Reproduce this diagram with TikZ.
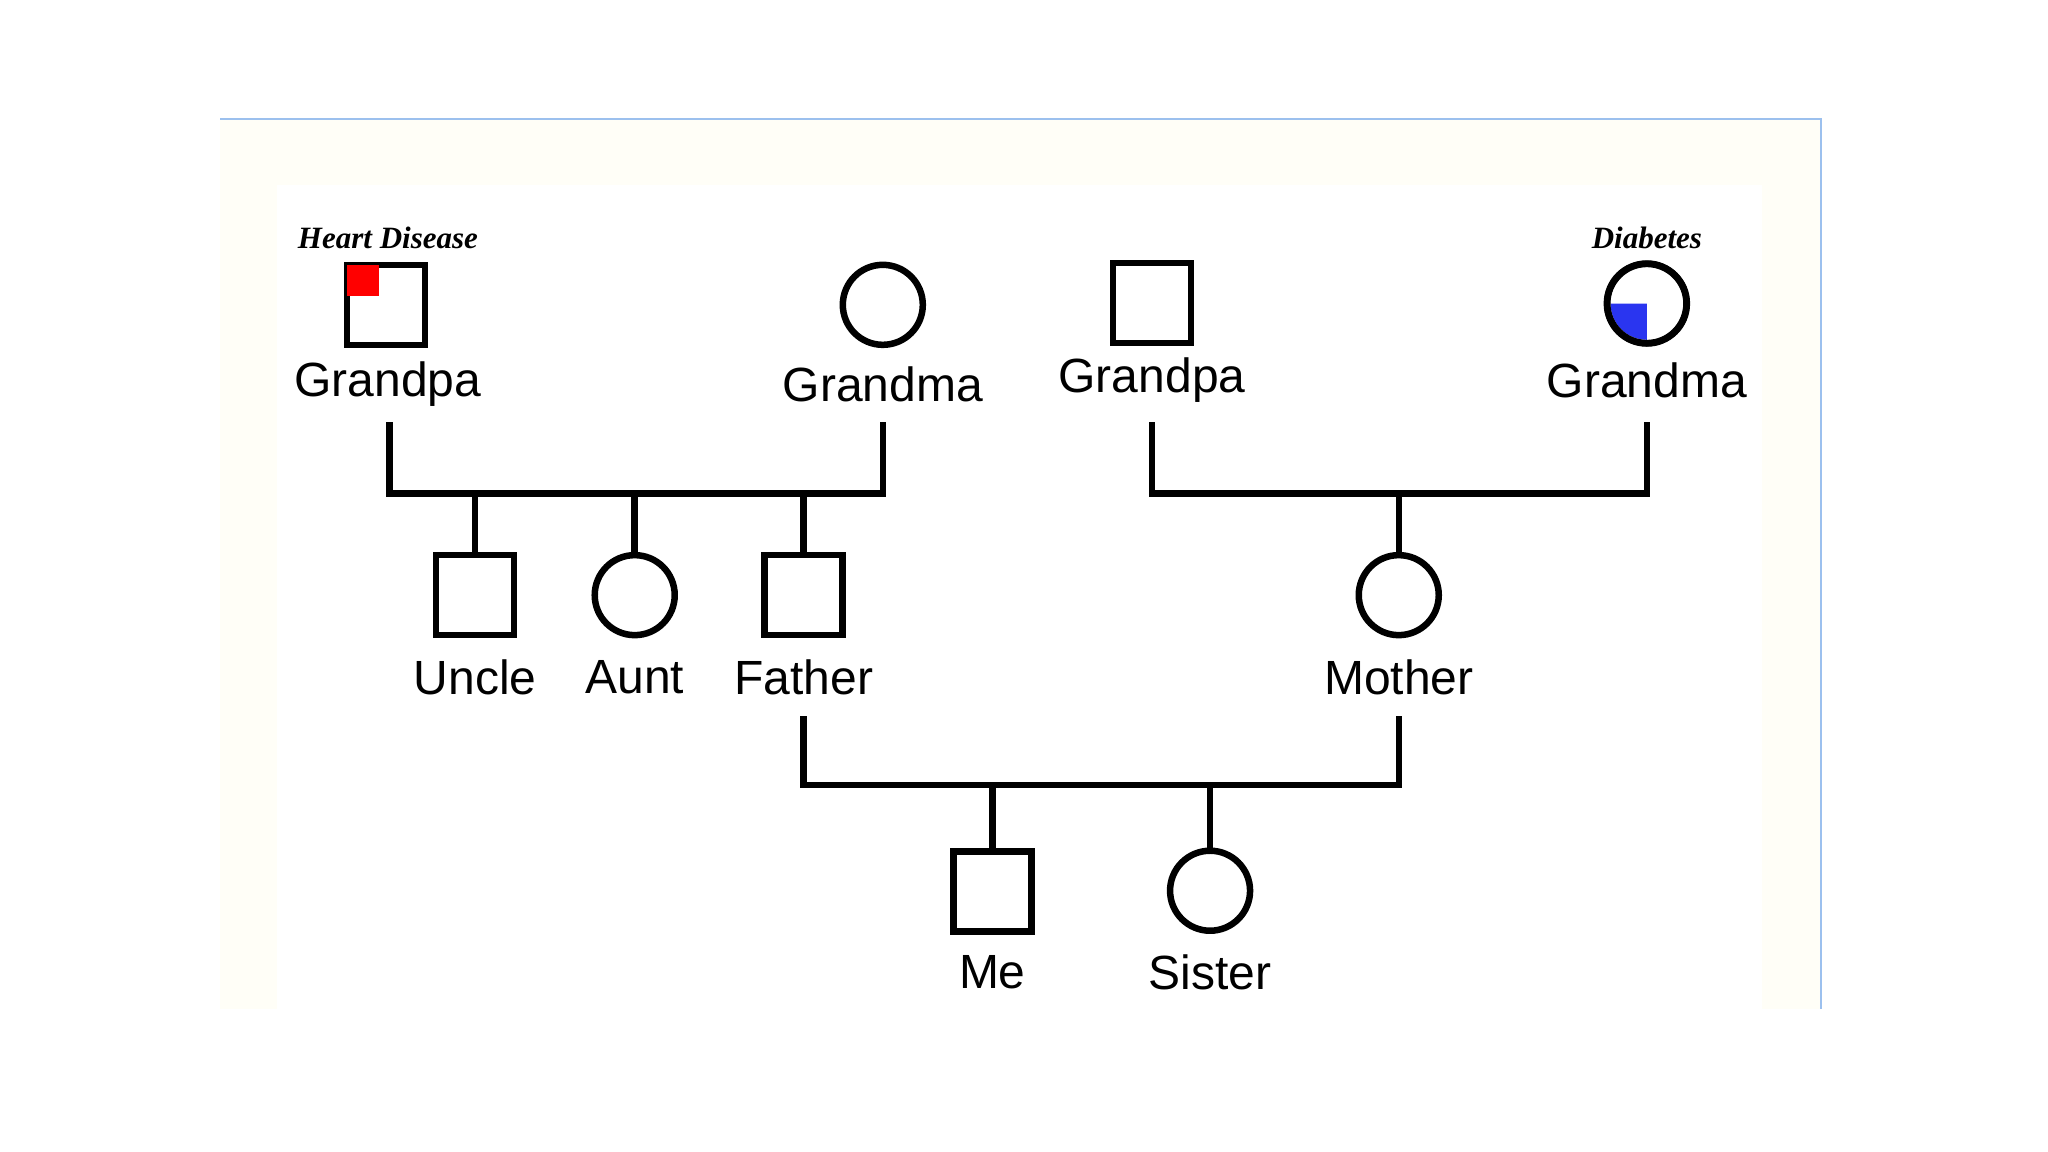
\documentclass[tikz,border=0pt]{standalone}
\usepackage{fontspec}
\setmainfont{Liberation Sans}
\newfontfamily\dz{Liberation Serif}
\definecolor{dblue}{HTML}{2A35F0}
\definecolor{bord}{HTML}{9CC0EE}
\begin{document}
\begin{tikzpicture}[x=1.3196pt,y=-1.3196pt,
  lw/.style={line width=6.5pt},
  male/.style={draw,lw,minimum width=78pt,minimum height=80pt,inner sep=0,fill=white},
  female/.style={draw,lw,circle,minimum size=80pt,inner sep=0,fill=white},
  lab/.style={font=\fontsize{48}{48}\selectfont,inner sep=0},
  dis/.style={font=\dz\bfseries\itshape\fontsize{31}{31}\selectfont,inner sep=0},
  link/.style={lw,line cap=rect}]
\useasboundingbox (0,0) rectangle (1552,873);
\fill[fill=black!2!yellow!3] (167,90) rectangle (1380,765);
\fill[white] (210,140) rectangle (1335,765);
\draw[bord,line width=2pt] (167,90) -- (1380,90) -- (1380,765);
% generation 1
\node[male] (gp1) at (292.5,231) {};
\fill[red] ([shift={(3.25pt,-3.25pt)}]gp1.north west) rectangle ++(24,24);
\node[dis] (hd) at (294,180) {Heart Disease};
\node[lab] (gp1l) at (294,291) {Grandpa};
\node[female] (gm1) at (669,231) {};
\node[lab] (gm1l) at (669,291) {Grandma};
\node[male] (gp2) at (873,229.5) {};
\node[lab] (gp2l) at (873,288) {Grandpa};
\node[female] (gm2) at (1248,230) {};
\fill[dblue] (gm2.center) -- ++(-27.5,0) arc (180:90:27.5) -- cycle;
\draw[lw] (gm2.center) circle (30);
\node[dis] (db) at (1248,180) {Diabetes};
\node[lab] (gm2l) at (1248,288) {Grandma};
% generation 2
\node[male] (uncle) at (360,451) {};
\node[lab] (unclel) at (360,513) {Uncle};
\node[female] (aunt) at (481,451) {};
\node[lab] (auntl) at (481,513) {Aunt};
\node[male] (father) at (609,451) {};
\node[lab] (fatherl) at (609,513) {Father};
\node[female] (mother) at (1060,451) {};
\node[lab] (motherl) at (1060,513) {Mother};
% generation 3
\node[male] (me) at (752,675.5) {};
\node[lab] (mel) at (752,737) {Me};
\node[female] (sister) at (917,675) {};
\node[lab] (sisterl) at (917,737) {Sister};
% connectors
\coordinate (a1) at (295,322); \coordinate (a2) at (669,322);
\draw[link] (a1) |- (669,374) -- (a2);
\draw[link] (360,374) -- (uncle.north);
\draw[link] (481,374) -- (aunt.north);
\draw[link] (609,374) -- (father.north);
\coordinate (b1) at (873,322); \coordinate (b2) at (1248,322);
\draw[link] (b1) |- (1248,374) -- (b2);
\draw[link] (1060,374) -- (mother.north);
\coordinate (c1) at (609,545); \coordinate (c2) at (1060,545);
\draw[link] (c1) |- (1060,595) -- (c2);
\draw[link] (752,595) -- (me.north);
\draw[link] (917,595) -- (sister.north);
\end{tikzpicture}
\end{document}
